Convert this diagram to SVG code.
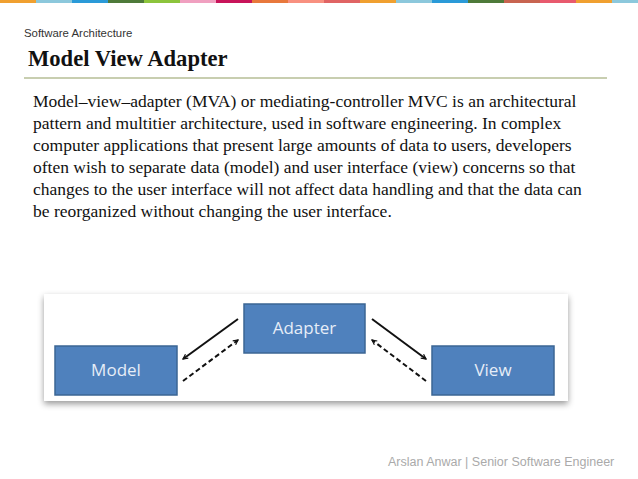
<svg xmlns="http://www.w3.org/2000/svg" width="638" height="479" viewBox="0 0 638 479">
<style>
.hdr{font-family:"Liberation Sans",Arial,sans-serif;font-size:11.4px;fill:#333}
.ttl{font-family:"Liberation Serif","Times New Roman",serif;font-size:22.6px;font-weight:bold;fill:#111}
.body{font-family:"Liberation Serif","Times New Roman",serif;font-size:17.5px;fill:#111}
.foot{font-family:"Liberation Sans",Arial,sans-serif;font-size:12.5px;fill:#aaa}
.box{fill:#4f81bd;stroke:#3b6694;stroke-width:1.5}
.lbl{font-family:"Open Sans","Liberation Sans",sans-serif;font-size:17px;fill:#e6edf7;text-anchor:middle}
.sol{stroke:#111;stroke-width:2;fill:none}
.dash{stroke:#111;stroke-width:2;fill:none;stroke-dasharray:5,3}
</style>
<defs>
<marker id="ah" viewBox="0 0 10 10" refX="9" refY="5" markerWidth="6" markerHeight="6" orient="auto" markerUnits="userSpaceOnUse" overflow="visible">
<path d="M1,1 L9,5 L1,9" fill="none" stroke="#111" stroke-width="2"/>
</marker>
<filter id="sh" x="-5%" y="-10%" width="110%" height="130%">
<feDropShadow dx="0" dy="3" stdDeviation="3" flood-color="#000" flood-opacity="0.4"/>
</filter>
</defs>
<rect width="638" height="479" fill="#fff"/>
<g id="topbar">
<rect x="0" y="0" width="36" height="3" fill="#f0a030"/>
<rect x="36" y="0" width="36" height="3" fill="#8cc8dc"/>
<rect x="72" y="0" width="36" height="3" fill="#2a9ad8"/>
<rect x="108" y="0" width="36" height="3" fill="#4e7a3a"/>
<rect x="144" y="0" width="36" height="3" fill="#8cc43c"/>
<rect x="180" y="0" width="36" height="3" fill="#f0a0c0"/>
<rect x="216" y="0" width="36" height="3" fill="#c8145a"/>
<rect x="252" y="0" width="36" height="3" fill="#e8783c"/>
<rect x="288" y="0" width="36" height="3" fill="#f89080"/>
<rect x="324" y="0" width="36" height="3" fill="#e06464"/>
<rect x="360" y="0" width="36" height="3" fill="#f0a030"/>
<rect x="396" y="0" width="36" height="3" fill="#8cc8dc"/>
<rect x="432" y="0" width="36" height="3" fill="#2a9ad8"/>
<rect x="468" y="0" width="36" height="3" fill="#4e7a3a"/>
<rect x="504" y="0" width="36" height="3" fill="#c86450"/>
<rect x="540" y="0" width="36" height="3" fill="#e85a6e"/>
<rect x="576" y="0" width="36" height="3" fill="#f0a030"/>
<rect x="612" y="0" width="26" height="3" fill="#8cc8dc"/>
</g>
<text class="hdr" x="24" y="37">Software Architecture</text>
<text class="ttl" x="28" y="66">Model View Adapter</text>
<line x1="24" y1="78" x2="607" y2="78" stroke="#c8ceb0" stroke-width="2"/>
<g id="para">
<text class="body" x="33" y="107">Model–view–adapter (MVA) or mediating-controller MVC is an architectural</text>
<text class="body" x="33" y="129">pattern and multitier architecture, used in software engineering. In complex</text>
<text class="body" x="33" y="151">computer applications that present large amounts of data to users, developers</text>
<text class="body" x="33" y="173">often wish to separate data (model) and user interface (view) concerns so that</text>
<text class="body" x="33" y="195">changes to the user interface will not affect data handling and that the data can</text>
<text class="body" x="33" y="217">be reorganized without changing the user interface.</text>
</g>
<rect id="panel" x="44" y="294" width="524" height="107" fill="#fff" filter="url(#sh)"/>
<g id="model"><rect class="box" x="55" y="346" width="122" height="49"/><text class="lbl" x="116" y="376">Model</text></g>
<g id="adapter"><rect class="box" x="244" y="304" width="121" height="49"/><text class="lbl" x="304.5" y="334">Adapter</text></g>
<g id="view"><rect class="box" x="432" y="346" width="122" height="49"/><text class="lbl" x="493" y="376">View</text></g>
<g id="connectors">
<line class="sol" x1="238" y1="319" x2="183" y2="359" marker-end="url(#ah)"/>
<line class="dash" x1="183" y1="381" x2="238" y2="340" marker-end="url(#ah)"/>
<line class="sol" x1="372" y1="319" x2="426" y2="359" marker-end="url(#ah)"/>
<line class="dash" x1="426" y1="381" x2="372" y2="340" marker-end="url(#ah)"/>
</g>
<text class="foot" x="388" y="466">Arslan Anwar | Senior Software Engineer</text>
</svg>
